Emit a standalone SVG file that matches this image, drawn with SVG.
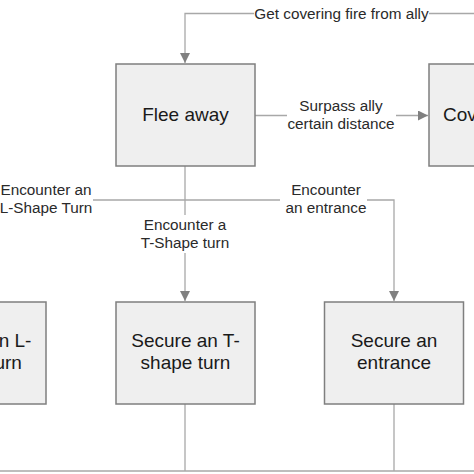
<svg xmlns="http://www.w3.org/2000/svg" width="474" height="474" viewBox="0 0 474 474">
<defs>
<style>
.box{fill:#efefef;stroke:#7f7f7f;stroke-width:1.5}
.t{font-family:"Liberation Sans",Arial,sans-serif;font-size:19px;fill:#1a1a1a;text-anchor:middle}
.l{font-family:"Liberation Sans",Arial,sans-serif;font-size:15.3px;fill:#2a2a2a;text-anchor:middle}
.c{fill:none;stroke:#a8a8a8;stroke-width:1.3}
</style>
<marker id="ah" viewBox="0 0 10 10" refX="10" refY="5" markerWidth="10" markerHeight="10" markerUnits="userSpaceOnUse" orient="auto">
<path d="M0,0 L10,5 L0,10 Z" fill="#808080"/>
</marker>
</defs>
<rect width="474" height="474" fill="#ffffff"/>
<g id="connectors">
<path class="c" d="M474,13.5 H429 M254,13.5 H185 V63" marker-end="url(#ah)"/>
<path class="c" d="M255,115.5 H287 M396,115.5 H428" marker-end="url(#ah)"/>
<path class="c" d="M185,166 V215"/>
<path class="c" d="M93,200 H280 M367,200 H394 V301" marker-end="url(#ah)"/>
<path class="c" d="M185,253 V301" marker-end="url(#ah)"/>
<path class="c" d="M185,404 V471 M394,404 V471 M0,471 H474"/>
<text class="l" x="341.5" y="18.5">Get covering fire from ally</text>
<text class="l" x="341" y="111">Surpass ally</text>
<text class="l" x="341" y="128.5">certain distance</text>
<text class="l" x="46" y="195">Encounter an</text>
<text class="l" x="46" y="212.5">L-Shape Turn</text>
<text class="l" x="326" y="195">Encounter</text>
<text class="l" x="326" y="212.5">an entrance</text>
<text class="l" x="185" y="229.5">Encounter a</text>
<text class="l" x="185" y="247.5">T-Shape turn</text>
</g>
<g id="flee">
<rect class="box" x="116" y="64" width="139" height="102"/>
<text class="t" x="185.5" y="121">Flee away</text>
</g>
<g id="cover">
<rect class="box" x="429" y="64" width="139" height="102"/>
<text class="t" x="443" y="121" style="text-anchor:start">Cov</text>
</g>
<g id="secure-l">
<rect class="box" x="-93" y="302" width="139" height="102"/>
<text class="t" x="-23" y="346.5">Secure an L-</text>
<text class="t" x="-23" y="369">shape turn</text>
</g>
<g id="secure-t">
<rect class="box" x="116" y="302" width="139" height="102"/>
<text class="t" x="185.5" y="346.5">Secure an T-</text>
<text class="t" x="185.5" y="369">shape turn</text>
</g>
<g id="secure-entrance">
<rect class="box" x="324.5" y="302" width="139" height="102"/>
<text class="t" x="394" y="346.5">Secure an</text>
<text class="t" x="394" y="369">entrance</text>
</g>
</svg>
